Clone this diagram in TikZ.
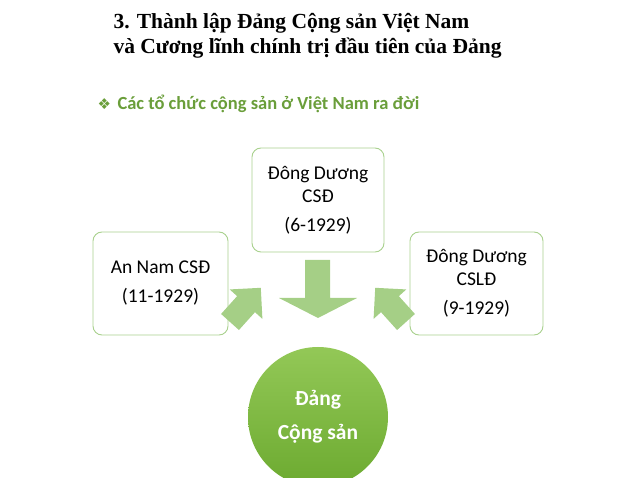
\documentclass[tikz,border=0pt]{standalone}
\usepackage{fontspec}
\setmainfont{Liberation Serif}
\newfontfamily\calfont{Carlito}
\newfontfamily\djfont{DejaVu Sans}
\definecolor{gtxt}{HTML}{6A9E3A}
\definecolor{gbord}{HTML}{A9D18E}
\definecolor{garr}{HTML}{A5CF86}
\definecolor{gc1}{HTML}{93C857}
\definecolor{gc2}{HTML}{6CAA30}
\tikzset{
 box/.style={draw=gbord,line width=0.9pt,rounded corners=9pt,fill=white,minimum width=#1,align=center,font=\calfont\fontsize{19.5}{23}\selectfont},
 arrowfill/.style={fill=garr,draw=none},
}
\begin{document}
\begin{tikzpicture}[x=1pt,y=-1pt]
\useasboundingbox (0,0) rectangle (638,478);
\clip (0,0) rectangle (638,478);
\node[anchor=west,font=\bfseries\fontsize{21.5}{25}\selectfont,align=left] (title) at (110,36) {3. Thành lập Đảng Cộng sản Việt Nam\\và Cương lĩnh chính trị đầu tiên của Đảng};
\node[anchor=west,text=gtxt,font=\djfont\fontsize{15}{16}\selectfont] (bul) at (94,104) {❖};
\node[anchor=west,text=gtxt,font=\calfont\bfseries\fontsize{18.5}{20}\selectfont] (sub) at (114,104) {Các tổ chức cộng sản ở Việt Nam ra đời};
\node[box=135pt,minimum height=103pt] (a) at (160.5,283.5) {An Nam CSĐ\\[6pt](11-1929)};
\node[box=132pt,minimum height=104pt] (b) at (318,200) {Đông Dương\\CSĐ\\[6pt](6-1929)};
\node[box=133pt,minimum height=103pt] (c) at (476.5,283.5) {Đông Dương\\CSLĐ\\[6pt](9-1929)};
\node[circle,minimum size=140pt,inner sep=0pt,top color=gc1,bottom color=gc2,draw=none,text=white,align=center,font=\calfont\bfseries\fontsize{21.5}{24}\selectfont] (d) at (318,417) {Đảng\\[10pt]Cộng sản};
\fill[arrowfill] (305,260) -- (330,260) -- (330,298) -- (357,298) -- (318,318) -- (279,298) -- (305,298) -- cycle;
\begin{scope}[shift={(230,322)},rotate=48]
\fill[arrowfill] (0,-12) -- (24,-12) -- (24,-22) -- (46,0) -- (24,22) -- (24,12) -- (0,12) -- cycle;
\end{scope}
\begin{scope}[shift={(406,322)},rotate=132]
\fill[arrowfill] (0,-12) -- (24,-12) -- (24,-22) -- (46,0) -- (24,22) -- (24,12) -- (0,12) -- cycle;
\end{scope}
\end{tikzpicture}
\end{document}
